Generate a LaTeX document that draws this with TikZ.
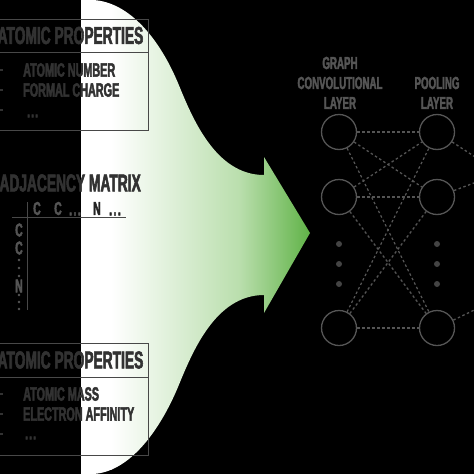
\documentclass[tikz,border=0pt]{standalone}
\usepackage{fontspec}
\newfontfamily\cond[FakeStretch=0.56, FakeBold=2.2]{Liberation Sans Bold}
\definecolor{txt}{HTML}{323232}
\definecolor{darktxt}{HTML}{222222}
\definecolor{mgray}{HTML}{555555}
\definecolor{boxline}{HTML}{484848}
\definecolor{netgray}{HTML}{555555}
\definecolor{dotgray}{HTML}{444444}
\definecolor{lgreen}{RGB}{185,222,172}
\definecolor{dgreen}{RGB}{95,178,70}
\begin{document}
\begin{tikzpicture}[x=1pt,y=-1pt,
  title/.style={font=\cond\fontsize{24.6}{28}\selectfont, text=txt, inner sep=0pt, anchor=east},
  item/.style={font=\cond\fontsize{19.3}{20}\selectfont, text=txt, inner sep=0pt, anchor=west},
  mletter/.style={font=\cond\fontsize{18.5}{20}\selectfont, text=mgray, inner sep=0pt},
  boxframe/.style={draw=boxline, line width=1pt},
  bullet/.style={draw=txt, line width=1.2pt},
  neuron/.style={circle, draw=netgray, line width=1.3pt, minimum size=35pt, inner sep=0pt},
  link/.style={draw=netgray, line width=1.3pt, dash pattern=on 2.5pt off 2.5pt},
  layerlabel/.style={font=\cond\fontsize{17.4}{20}\selectfont, text=netgray, inner sep=0pt}
]
\fill[black] (0,0) rectangle (474,474);
\path[use as bounding box] (0,0) rectangle (474,474);
\clip (0,0) rectangle (474,474);

% gradient arrow shape
\begin{scope}
\clip (81,0) -- (93,0) .. controls (130,2) and (160,40) .. (178,83)
  .. controls (192,117) and (215,175) .. (264,175) -- (264,157) -- (310,233)
  -- (264,313) -- (264,295) .. controls (215,295) and (192,353) .. (178,387)
  .. controls (160,430) and (130,472) .. (93,474) -- (81,474) -- cycle;
\fill[white] (80,-1) rectangle (112,475);
\shade[left color=white, right color=lgreen] (111,-1) rectangle (241,475);
\shade[left color=lgreen, right color=dgreen] (240,-1) rectangle (311,475);
\end{scope}

% top atomic properties box
\draw[boxframe] (-5,19) rectangle (148,52);
\draw[boxframe] (-5,52) rectangle (148,130);
\node[title] (t1) at (143.5,35.5) {ATOMIC PROPERTIES};
\draw[bullet] (-2,70) -- (3,70);
\draw[bullet] (-2,90) -- (3,90);
\draw[bullet] (-2,110) -- (3,110);
\node[item] (a1) at (23,70) {ATOMIC NUMBER};
\node[item] (a2) at (23,90) {FORMAL CHARGE};
\node[item] (a3) at (27,116) {.\kern1pt.\kern1pt.};

% adjacency matrix
\node[title] (adj) at (141,183) {ADJACENCY MATRIX};
\draw[boxframe] (12,217) -- (126,217);
\draw[boxframe] (27,202) -- (27,310);
\node[mletter] (h1) at (37,208.5) {C};
\node[mletter] (h2) at (58,208.5) {C};
\node[mletter] (h3) at (75,214) {.\kern1.5pt.\kern1.5pt.};
\node[mletter, text=darktxt] (h4) at (97,208.5) {N};
\node[mletter, text=darktxt] (h5) at (115,214) {.\kern1.5pt.\kern1.5pt.};
\node[mletter] (v1) at (19,230) {C};
\node[mletter] (v2) at (19,248) {C};
\node[mletter] (v3) at (19,286) {N};
\foreach \yy in {260,268,276,295,302,309} \fill[mgray] (19,\yy) circle (1.4);

% bottom atomic properties box
\draw[boxframe] (-5,343) rectangle (148,377);
\draw[boxframe] (-5,377) rectangle (148,455);
\node[title] (t2) at (143.5,360) {ATOMIC PROPERTIES};
\draw[bullet] (-2,394) -- (3,394);
\draw[bullet] (-2,414) -- (3,414);
\draw[bullet] (-2,434) -- (3,434);
\node[item] (b1) at (23,394) {ATOMIC MASS};
\node[item] (b2) at (23,414) {ELECTRON AFFINITY};
\node[item] (b3) at (25,438) {.\kern1pt.\kern1pt.};

% network
\node[layerlabel] (g1) at (340,63) {GRAPH};
\node[layerlabel] (g2) at (340,83) {CONVOLUTIONAL};
\node[layerlabel] (g3) at (340,103) {LAYER};
\node[layerlabel] (p1) at (437,83) {POOLING};
\node[layerlabel] (p2) at (437,103) {LAYER};

\node[neuron] (l1) at (339,132) {};
\node[neuron] (l2) at (339,197) {};
\node[neuron] (l4) at (339,328) {};
\node[neuron] (r1) at (437,132) {};
\node[neuron] (r2) at (437,197) {};
\node[neuron] (r4) at (437,328) {};
\foreach \a in {l1,l2,l4} \foreach \b in {r1,r2,r4} \draw[link] (\a) -- (\b);
\coordinate (o1) at (495,170);
\coordinate (o2) at (495,175);
\coordinate (o4) at (495,300);
\draw[link] (r1) -- (o1);
\draw[link] (r2) -- (o2);
\draw[link] (r4) -- (o4);
\foreach \yy in {244,264,284} {
  \fill[dotgray] (339,\yy) circle (3);
  \fill[dotgray] (437,\yy) circle (3);
}
\end{tikzpicture}
\end{document}
